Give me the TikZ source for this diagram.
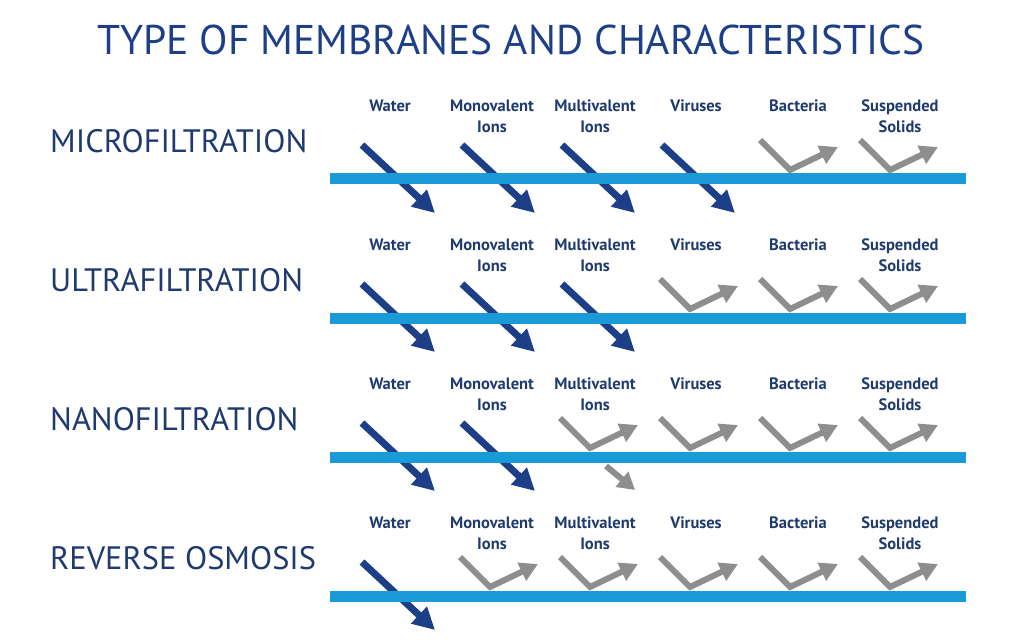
\documentclass[tikz,border=0pt]{standalone}
\usepackage{fontspec}
\setmainfont{PT Sans}
\usetikzlibrary{arrows.meta}
\definecolor{navy}{HTML}{1D3F87}
\definecolor{txt}{HTML}{1F3A6E}
\definecolor{memb}{HTML}{1A9BD7}
\definecolor{rejg}{HTML}{8E8E8E}
\begin{document}
\begin{tikzpicture}[x=1pt,y=-1pt,
  passarr/.style={navy,line width=7pt,-{Triangle[length=22pt,width=22pt]}},
  rejarr/.style={rejg,line width=6pt,line join=miter,-{Triangle[length=18pt,width=19pt]}},
  colhead/.style={font=\fontsize{16.5}{21}\selectfont\bfseries,text=txt,align=center,anchor=north,inner sep=0pt},
  rowhead/.style={font=\fontsize{32.4}{36}\selectfont,text=txt,anchor=west,inner sep=0pt},
  membrane/.style={fill=memb,draw=none,minimum width=636pt,minimum height=11pt,inner sep=0pt,anchor=west},
  pics/pass/.style={code={\draw[passarr] (0,0) -- (73,68);}},
  pics/rej/.style={code={\draw[rejarr] (-2,-5) -- (28,25) -- (76,2);}},
  pics/half/.style={code={\draw[rejarr] (-2,-5) -- (28,25) -- (76,2);
     \draw[rejg,line width=6pt,-{Triangle[length=17pt,width=19pt]}] (44,43) -- (73,67);}}
]
\useasboundingbox (0,0) rectangle (1024,644);
\node[font=\fontsize{41.5}{46}\selectfont,text=navy,inner sep=0pt] (title) at (511,40) {TYPE OF MEMBRANES AND CHARACTERISTICS};

\foreach \r/\name/\kinds in {0/MICROFILTRATION/{pass,pass,pass,pass,rej,rej},
                              1/ULTRAFILTRATION/{pass,pass,pass,rej,rej,rej},
                              2/NANOFILTRATION/{pass,pass,half,rej,rej,rej},
                              3/REVERSE OSMOSIS/{pass,rej,rej,rej,rej,rej}}{
  \pgfmathsetmacro{\yy}{139*\r}
  \node[rowhead] (row\r) at (50,141+\yy) {\name};
  \node[colhead] (w\r) at (390,100+\yy) {Water};
  \node[colhead] (mo\r) at (492,100+\yy) {Monovalent\\Ions};
  \node[colhead] (mu\r) at (595,100+\yy) {Multivalent\\Ions};
  \node[colhead] (v\r) at (696,100+\yy) {Viruses};
  \node[colhead] (b\r) at (798,100+\yy) {Bacteria};
  \node[colhead] (s\r) at (900,100+\yy) {Suspended\\Solids};
  \foreach \k [count=\c from 0] in \kinds {
    \pic at (362+100*\c,145+\yy) {\k};
  }
  \node[membrane] (mem\r) at (330,179+\yy) {};
}
\end{tikzpicture}
\end{document}
